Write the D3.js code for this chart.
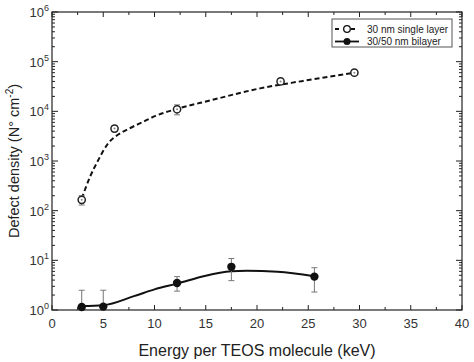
<!DOCTYPE html>
<html>
<head>
<meta charset="utf-8">
<script src="https://cdn.jsdelivr.net/npm/d3@7"></script>
<style>
  body { margin: 0; background: #fff; }
  text { font-family: "Liberation Sans", Arial, sans-serif; }
</style>
</head>
<body>
<div id="chart"></div>
<script>
// measured data (energy keV, defect density)
const singleX = [2.9, 6.1, 12.2, 22.3, 29.5];
const singleY = [165, 4500, 11000, 40000, 60000];
const singleErr = [35, 600, 2500, 4000, 5000];

const bilayerX = [2.9, 5.0, 12.2, 17.5, 25.6];
const bilayerY = [1.15, 1.17, 3.5, 7.4, 4.7];
const bilayerHi = [2.5, 2.5, 4.7, 10.9, 7.1];
const bilayerLo = [0.5, 0.5, 2.4, 3.9, 2.3];

// fit curves
const fitSingleX = [2.9, 3.7, 4.5, 5.5, 6.5, 7.5, 8.8, 10.1, 12.2, 15.4, 20.3, 24.5, 29.5];
const fitSingleY = [175, 475, 1030, 2300, 3450, 4470, 6030, 8100, 11200, 16500, 29000, 41000, 60000];
const fitBiX = [2.9, 5.0, 8.0, 10.0, 12.2, 15.0, 17.5, 19.0, 22.0, 25.6];
const fitBiY = [1.2, 1.25, 1.9, 2.6, 3.4, 4.9, 6.0, 6.2, 5.9, 4.8];

const xTicks = [0, 5, 10, 15, 20, 25, 30, 35, 40];
const yExps = [0, 1, 2, 3, 4, 5, 6];
const legendLabels = ["30 nm single layer", "30/50 nm bilayer"];

const W = 474, H = 362;
const m = {left: 52, right: 12, top: 12, bottom: 52};

const svg = d3.select("#chart").append("svg").attr("width", W).attr("height", H);

const x = d3.scaleLinear().domain([0, 40]).range([m.left, W - m.right]);
const y = d3.scaleLog().domain([1, 1e6]).range([H - m.bottom, m.top]);

const x0 = x.range()[0], x1 = x.range()[1];
const y0 = y.range()[0], y1 = y.range()[1];

let defs = svg.append("defs");
defs.append("clipPath").attr("id", "clip").append("rect")
  .attr("x", x0).attr("y", y1).attr("width", x1 - x0).attr("height", y0 - y1);

// frame
svg.append("rect").attr("x", x0).attr("y", y1).attr("width", x1 - x0).attr("height", y0 - y1)
  .attr("fill", "none").attr("stroke", "#222").attr("stroke-width", 1.2);

let ticks = svg.append("g").attr("stroke", "#222").attr("stroke-width", 1);

// x ticks, major and minor, bottom and top
let xMinor = d3.range(0, 40.01, 2.5);
xMinor.forEach(v => {
  let major = v % 5 == 0;
  let len = major ? 5 : 3;
  ticks.append("line").attr("x1", x(v)).attr("x2", x(v)).attr("y1", y0).attr("y2", y0 - len);
  ticks.append("line").attr("x1", x(v)).attr("x2", x(v)).attr("y1", y1).attr("y2", y1 + len);
});

// y ticks (log)
yExps.forEach(e => {
  let v = Math.pow(10, e);
  ticks.append("line").attr("x1", x0).attr("x2", x0 + 6).attr("y1", y(v)).attr("y2", y(v));
  ticks.append("line").attr("x1", x1).attr("x2", x1 - 6).attr("y1", y(v)).attr("y2", y(v));
  if (e < 6) {
    for (let k = 2; k < 10; k++) {
      let mv = k * v;
      ticks.append("line").attr("x1", x0).attr("x2", x0 + 3).attr("y1", y(mv)).attr("y2", y(mv));
      ticks.append("line").attr("x1", x1).attr("x2", x1 - 3).attr("y1", y(mv)).attr("y2", y(mv));
    }
  }
});

// tick labels
svg.append("g").selectAll("text").data(xTicks).enter().append("text")
  .attr("x", d => x(d)).attr("y", y0 + 18)
  .attr("text-anchor", "middle").attr("font-size", 13).attr("fill", "#333")
  .text(d => d);

let yl = svg.append("g").selectAll("text").data(yExps).enter().append("text")
  .attr("x", x0 - 3).attr("y", d => y(Math.pow(10, d)) + 5)
  .attr("text-anchor", "end").attr("font-size", 13).attr("fill", "#333");
yl.append("tspan").text("10");
yl.append("tspan").attr("dy", -6).attr("font-size", 9).text(d => d);

// axis titles
svg.append("text").attr("x", (x0 + x1) / 2).attr("y", H - 6)
  .attr("text-anchor", "middle").attr("font-size", 16).attr("fill", "#222")
  .text("Energy per TEOS molecule (keV)");

let yt = svg.append("text").attr("transform", `translate(19,${(y0 + y1) / 2}) rotate(-90)`)
  .attr("text-anchor", "middle").attr("font-size", 14.5).attr("fill", "#222");
yt.append("tspan").text("Defect density (N° cm");
yt.append("tspan").attr("dy", -6).attr("font-size", 10).text("-2");
yt.append("tspan").attr("dy", 6).text(")");

// curves
let line = d3.line().x(d => x(d[0])).y(d => y(d[1])).curve(d3.curveMonotoneX);
let plot = svg.append("g").attr("clip-path", "url(#clip)");

plot.append("path").datum(d3.zip(fitSingleX, fitSingleY)).attr("d", line)
  .attr("fill", "none").attr("stroke", "#111").attr("stroke-width", 2).attr("stroke-dasharray", "5,3");
plot.append("path").datum(d3.zip(fitBiX, fitBiY)).attr("d", line)
  .attr("fill", "none").attr("stroke", "#111").attr("stroke-width", 2);

// error bars
function errBar(g, px, lo, hi) {
  g.append("line").attr("x1", x(px)).attr("x2", x(px)).attr("y1", y(lo)).attr("y2", y(hi));
  g.append("line").attr("x1", x(px) - 3).attr("x2", x(px) + 3).attr("y1", y(hi)).attr("y2", y(hi));
  g.append("line").attr("x1", x(px) - 3).attr("x2", x(px) + 3).attr("y1", y(lo)).attr("y2", y(lo));
}
let errs = plot.append("g").attr("stroke", "#777").attr("stroke-width", 1);
singleX.forEach((v, i) => errBar(errs, v, singleY[i] - singleErr[i], singleY[i] + singleErr[i]));
bilayerX.forEach((v, i) => errBar(errs, v, bilayerLo[i], bilayerHi[i]));

// markers
let openPts = svg.append("g");
openPts.selectAll("circle.o").data(d3.zip(singleX, singleY)).enter().append("circle")
  .attr("cx", d => x(d[0])).attr("cy", d => y(d[1])).attr("r", 3.6)
  .attr("fill", "#fff").attr("stroke", "#222").attr("stroke-width", 1.5);
openPts.selectAll("circle.d").data(d3.zip(singleX, singleY)).enter().append("circle")
  .attr("cx", d => x(d[0])).attr("cy", d => y(d[1])).attr("r", 1)
  .attr("fill", "#888");

svg.append("g").selectAll("circle").data(d3.zip(bilayerX, bilayerY)).enter().append("circle")
  .attr("cx", d => x(d[0])).attr("cy", d => y(d[1])).attr("r", 4.2)
  .attr("fill", "#111");

// legend
let lg = svg.append("g");
lg.append("rect").attr("x", 332).attr("y", 19).attr("width", 120).attr("height", 28)
  .attr("fill", "#fff").attr("stroke", "#555").attr("stroke-width", 1);
lg.append("line").attr("x1", 335).attr("x2", 359).attr("y1", 29).attr("y2", 29)
  .attr("stroke", "#111").attr("stroke-width", 1.8).attr("stroke-dasharray", "4,4");
lg.append("circle").attr("cx", 347).attr("cy", 29).attr("r", 3.3)
  .attr("fill", "#fff").attr("stroke", "#111").attr("stroke-width", 1.3);
lg.append("line").attr("x1", 335).attr("x2", 359).attr("y1", 41.5).attr("y2", 41.5)
  .attr("stroke", "#111").attr("stroke-width", 1.8);
lg.append("circle").attr("cx", 347).attr("cy", 41.5).attr("r", 3.5).attr("fill", "#111");
lg.selectAll("text").data(legendLabels).enter().append("text")
  .attr("x", 367).attr("y", (d, i) => 32.8 + i * 12.5)
  .attr("font-size", 10).attr("fill", "#222").text(d => d);
</script>
</body>
</html>
